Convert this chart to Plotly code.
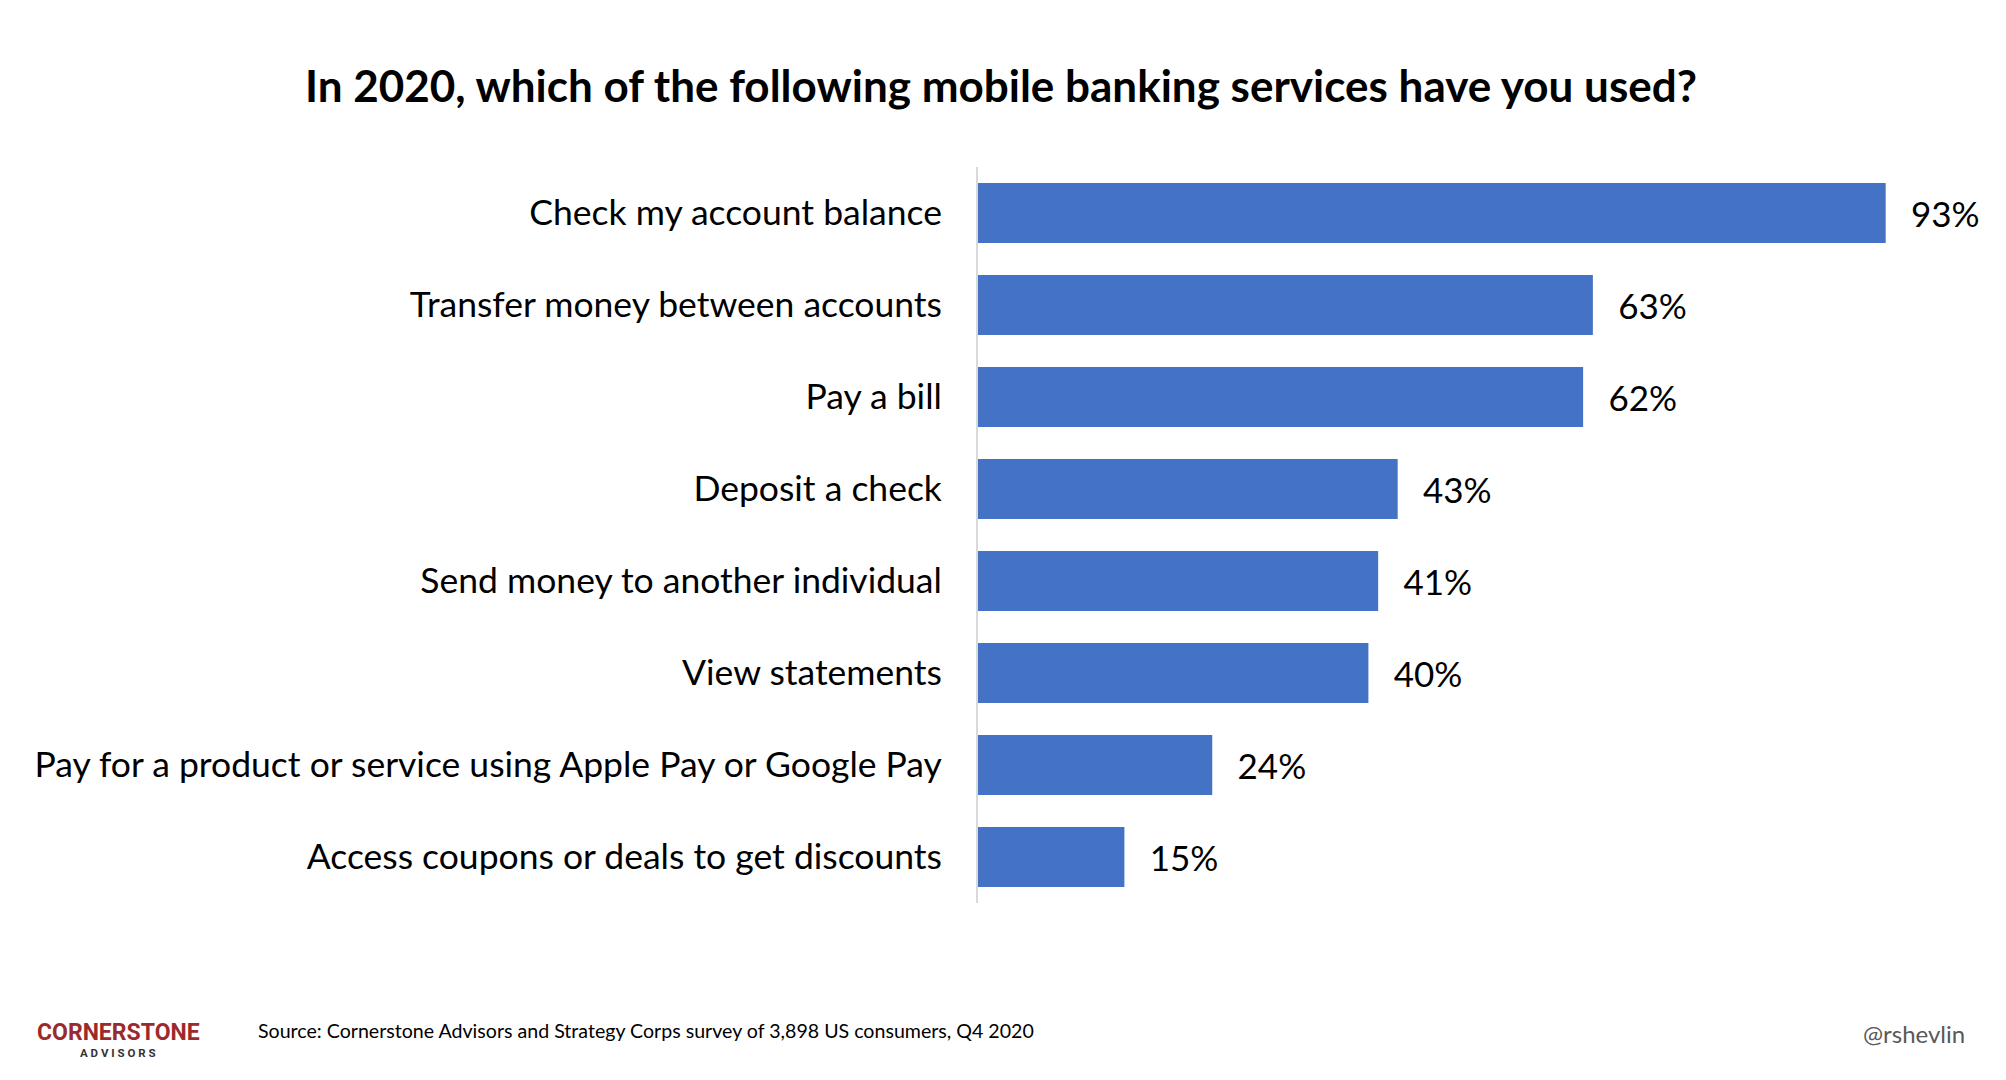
import plotly.graph_objects as go

W, H = 2006, 1080

categories = [
    "Check my account balance",
    "Transfer money between accounts",
    "Pay a bill",
    "Deposit a check",
    "Send money to another individual",
    "View statements",
    "Pay for a product or service using Apple Pay or Google Pay",
    "Access coupons or deals to get discounts",
]
values = [93, 63, 62, 43, 41, 40, 24, 15]
value_labels = [f"{v}%" for v in values]

title_text = "In 2020, which of the following mobile banking services have you used?"
source_text = "Source: Cornerstone Advisors and Strategy Corps survey of 3,898 US consumers, Q4 2020"
handle_text = "@rshevlin"

FONT = "Lato, 'Open Sans', sans-serif"

fig = go.Figure(
    go.Bar(
        x=values,
        y=categories,
        orientation="h",
        marker=dict(color="#4472C4", line=dict(width=0)),
        text=value_labels,
        texttemplate="  \u2009%{text}",
        textposition="outside",
        textfont=dict(family=FONT, size=35, color="#000000"),
        cliponaxis=False,
        hoverinfo="skip",
    )
)

left, top = 978, 167
right = W - (978 + 976.5)
bottom = H - 903

fig.update_layout(
    width=W,
    height=H,
    paper_bgcolor="white",
    plot_bgcolor="white",
    margin=dict(l=left, r=right, t=top, b=bottom, pad=0),
    bargap=0.35,
    showlegend=False,
    title=dict(
        text=f"<b>{title_text}</b>",
        x=1001 / W,
        xanchor="center",
        y=1 - 87 / H,
        yanchor="middle",
        yref="container",
        font=dict(family=FONT, size=44, color="#000000"),
    ),
    xaxis=dict(
        range=[0, 100],
        visible=False,
        showgrid=False,
        zeroline=False,
        fixedrange=True,
    ),
    yaxis=dict(
        autorange="reversed",
        showgrid=False,
        zeroline=False,
        showline=True,
        linecolor="#D9D9D9",
        linewidth=2,
        ticks="",
        ticklabelstandoff=27,
        tickfont=dict(family=FONT, size=35.5, color="#000000"),
    ),
)

annotations = [
    dict(
        text=source_text,
        x=256, y=1030,
        xanchor="left", yanchor="middle",
        font=dict(family=FONT, size=19.6, color="#000000"),
    ),
    dict(
        text=handle_text,
        x=1968, y=1033,
        xanchor="right", yanchor="middle",
        font=dict(family=FONT, size=24, color="#595959"),
    ),
    dict(
        text="<b>CORNERSTONE</b>",
        x=118, y=1032,
        xanchor="center", yanchor="middle",
        font=dict(family="'Liberation Sans Narrow', Roboto, sans-serif", size=23, color="#9B2A2D"),
    ),
    dict(
        text="<b>A D V I S O R S</b>",
        x=118, y=1053,
        xanchor="center", yanchor="middle",
        font=dict(family="Roboto, sans-serif", size=11.5, color="#333333"),
    ),
]

pw = W - left - right
ph = H - top - bottom
for a in annotations:
    # pixel positions converted to paper (plot-area) coordinates
    a["x"] = (a["x"] - left) / pw
    a["y"] = 1 - (a["y"] - top) / ph
    fig.add_annotation(xref="paper", yref="paper", showarrow=False, **a)

fig.write_html(
    "out.html",
    config={"displayModeBar": False, "staticPlot": True},
    post_script="document.body.style.margin='0';",
)
